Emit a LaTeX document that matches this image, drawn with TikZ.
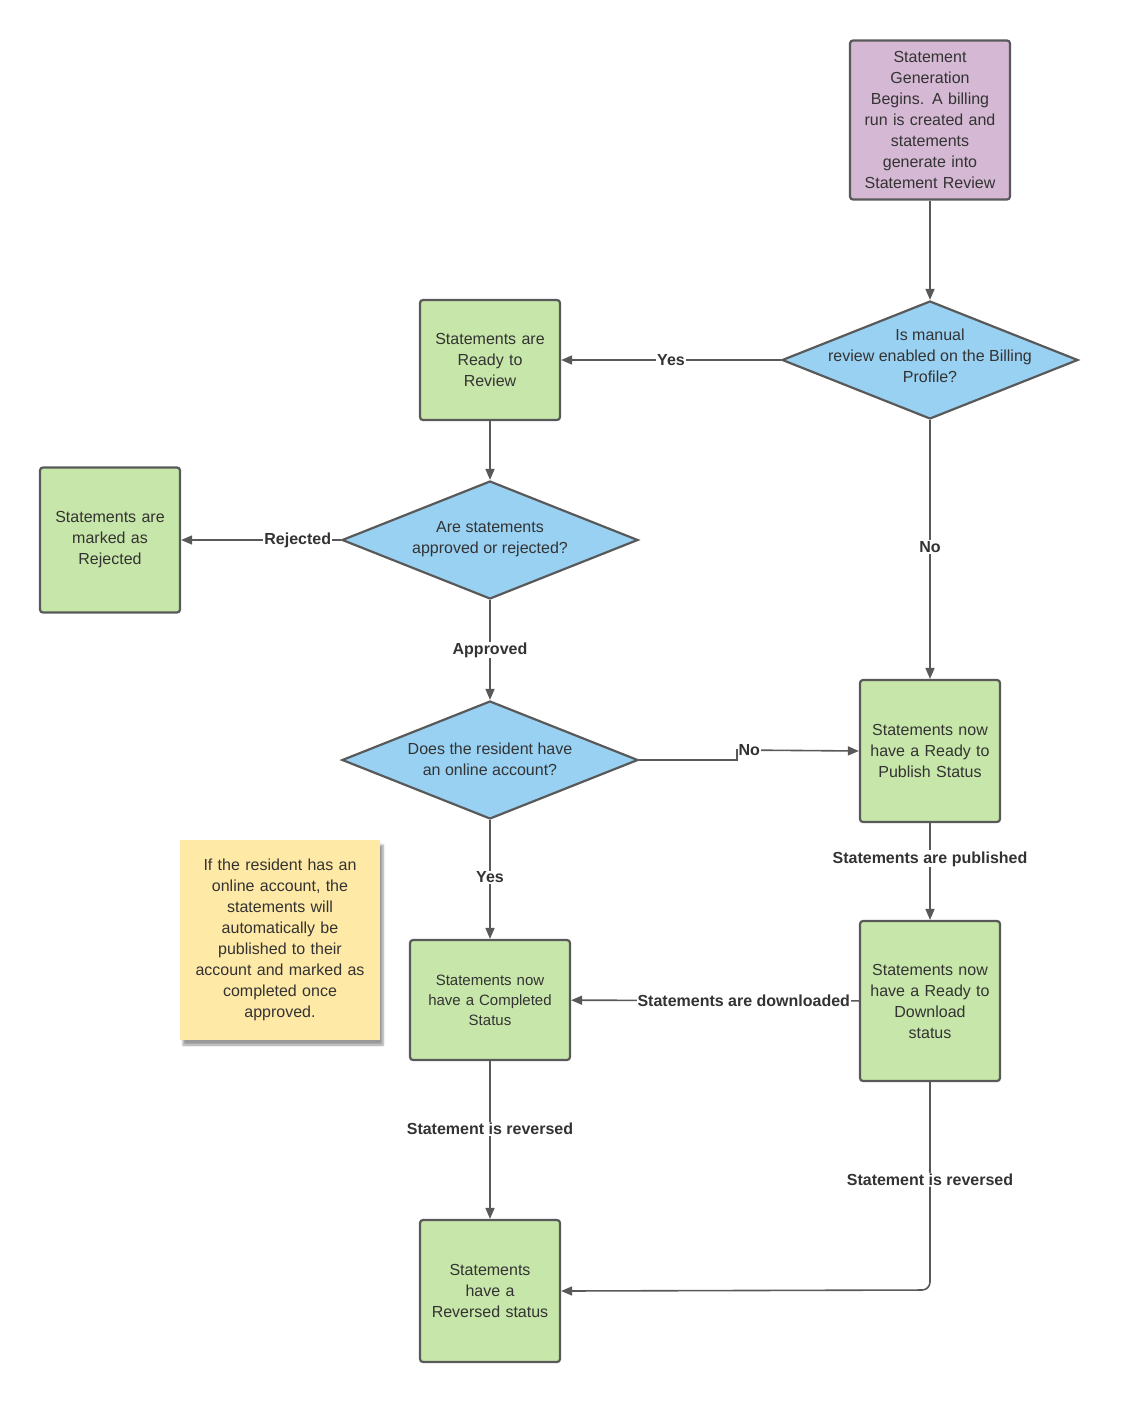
\documentclass[tikz,border=0pt]{standalone}
\usepackage{fontspec}
\setmainfont{Liberation Sans}
\usetikzlibrary{shapes.geometric,arrows.meta,shadows.blur}
\definecolor{edge}{HTML}{595959}
\definecolor{gfill}{HTML}{C7E6A9}
\definecolor{bfill}{HTML}{99D1F3}
\definecolor{pfill}{HTML}{D5B8D3}
\definecolor{yfill}{HTML}{FFE9A6}
\definecolor{txt}{HTML}{333333}
\begin{document}
\begin{tikzpicture}[x=1pt,y=-1pt,
  font=\fontsize{16}{21}\selectfont, text=txt,
  box/.style={draw=edge, line width=2.2pt, rounded corners=3pt, fill=gfill, align=center, inner sep=2pt},
  dia/.style={draw=edge, line width=2.2pt, diamond, fill=bfill, inner sep=0pt, aspect=2.5},
  arr/.style={draw=edge, line width=1.6pt, -{Triangle[length=11pt,width=9pt]}},
  lab/.style={fill=white, font=\fontsize{16}{19}\selectfont\bfseries, inner sep=1pt}]
\useasboundingbox (0,0) rectangle (1120,1402);
\node[box, fill=pfill, minimum width=160, minimum height=159, text width=150] (start) at (930,120) {Statement\\Generation\\Begins. A billing\\run is created and\\statements\\generate into\\Statement Review};
\node[dia, minimum width=296, minimum height=118] (d1) at (930,360) {};
\node[align=center] at (930,356) {Is manual\\review enabled on the Billing\\Profile?};
\node[box, minimum width=140, minimum height=120, text width=130] (ready) at (490,360) {Statements are\\Ready to\\Review};
\node[dia, minimum width=296, minimum height=118] (d2) at (490,540) {};
\node[align=center] at (490,539) {Are statements\\approved or rejected?};
\node[box, minimum width=140, minimum height=145, text width=130] (rej) at (110,540) {Statements are\\marked as\\Rejected};
\node[dia, minimum width=296, minimum height=118] (d3) at (490,760) {};
\node[align=center] at (490,759) {Does the resident have\\an online account?};
\node[box, minimum width=140, minimum height=142, text width=130] (pub) at (930,751) {Statements now\\have a Ready to\\Publish Status};
\node[box, minimum width=140, minimum height=160, text width=130] (dl) at (930,1001) {Statements now\\have a Ready to\\Download\\status};
\node[box, minimum width=160, minimum height=120, text width=150, font=\fontsize{15}{20}\selectfont] (comp) at (490,1000) {Statements now\\have a Completed\\Status};
\node[box, minimum width=140, minimum height=142, text width=130] (rev) at (490,1291) {Statements\\have a\\Reversed status};
\node[fill=yfill, minimum width=200, minimum height=200, text width=190, align=center, inner sep=0pt,
  blur shadow={shadow xshift=3pt, shadow yshift=-5pt, shadow blur steps=6}] (note) at (280,940)
  {If the resident has an\\online account, the\\statements will\\automatically be\\published to their\\account and marked as\\completed once\\approved.};
\draw[arr] (start) -- (d1);
\draw[arr] (d1) -- node[lab, pos=0.5]{Yes} (ready);
\draw[arr] (ready) -- (d2);
\draw[arr] (d2) -- node[lab, pos=0.27]{Rejected} (rej);
\draw[arr] (d2) -- node[lab]{Approved} (d3);
\draw[arr] (d1) -- node[lab, pos=0.49]{No} (pub);
\coordinate (j1) at (737,760);
\coordinate (j2) at (737,750);
\draw[arr] (d3.east) -- (j1) -- (j2) -- node[lab, pos=0.1]{No} (pub.west);
\draw[arr] (d3) -- node[lab, pos=0.48]{Yes} (comp);
\draw[arr] (pub) -- node[lab, pos=0.37]{Statements are published} (dl);
\draw[arr] (dl) -- node[lab, pos=0.4]{Statements are downloaded} (comp);
\draw[arr] (comp) -- node[lab, pos=0.43]{Statement is reversed} (rev);
\coordinate (c1) at (930,1290);
\draw[arr, rounded corners=8pt] (dl.south) -- node[lab, pos=0.47]{Statement is reversed} (c1) -- (rev.east);
\end{tikzpicture}
\end{document}
